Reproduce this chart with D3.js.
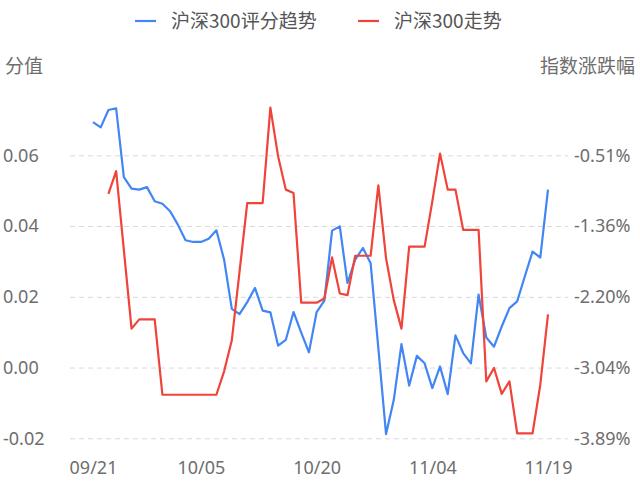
<!DOCTYPE html>
<html>
<head>
<meta charset="utf-8">
<script src="https://cdn.jsdelivr.net/npm/d3@7"></script>
<style>
  html, body { margin: 0; padding: 0; background: #fff; }
  svg { display: block; font-family: "Noto Sans CJK SC", "Noto Sans", sans-serif; }
</style>
</head>
<body>
<svg id="chart" width="640" height="493"></svg>
<script>
// ---- data ----
const dates = [
  "09/21","09/22","09/23","09/24","09/25","09/26","09/27","09/28","09/29","09/30",
  "10/01","10/02","10/03","10/04","10/05","10/06","10/07","10/08","10/09","10/10",
  "10/11","10/12","10/13","10/14","10/15","10/16","10/17","10/18","10/19","10/20",
  "10/21","10/22","10/23","10/24","10/25","10/26","10/27","10/28","10/29","10/30",
  "10/31","11/01","11/02","11/03","11/04","11/05","11/06","11/07","11/08","11/09",
  "11/10","11/11","11/12","11/13","11/14","11/15","11/16","11/17","11/18","11/19"
];
const xTickLabels = ["09/21","10/05","10/20","11/04","11/19"];

const scoreTrend = [
  0.0694, 0.0679, 0.0728, 0.0733, 0.0538, 0.0506, 0.0503, 0.0510, 0.0470, 0.0463,
  0.0442, 0.0404, 0.0360, 0.0355, 0.0355, 0.0364, 0.0388, 0.0305, 0.0166, 0.0151,
  0.0185, 0.0225, 0.0161, 0.0156, 0.0062, 0.0078, 0.0157, 0.0099, 0.0043, 0.0157,
  0.0189, 0.0387, 0.0399, 0.0239, 0.0305, 0.0338, 0.0295, 0.0055, -0.0188, -0.0092,
  0.0066, -0.0051, 0.0033, 0.0012, -0.0058, 0.0003, -0.0075, 0.0091, 0.0041, 0.0012,
  0.0206, 0.0085, 0.0059, 0.0116, 0.0168, 0.0187, 0.0258, 0.0328, 0.0311, 0.0503
];
const indexChange = [
  null, null, -0.97, -0.70, -1.64, -2.58, -2.47, -2.47, -2.47, -3.37,
  -3.37, -3.37, -3.37, -3.37, -3.37, -3.37, -3.37, -3.09, -2.72, -1.90,
  -1.08, -1.08, -1.08, 0.06, -0.52, -0.92, -0.96, -2.27, -2.27, -2.27,
  -2.22, -1.73, -2.16, -2.18, -1.71, -1.71, -1.71, -0.87, -1.74, -2.24,
  -2.58, -1.60, -1.60, -1.60, -1.06, -0.49, -0.92, -0.92, -1.40, -1.40,
  -1.40, -3.21, -3.05, -3.36, -3.21, -3.83, -3.83, -3.83, -3.25, -2.41
];

const leftTicks = [-0.02, 0, 0.02, 0.04, 0.06];
const leftTickLabels = ["-0.02", "0.00", "0.02", "0.04", "0.06"];
const rightTicks = [-3.89, -3.045, -2.20, -1.355, -0.51];
const rightTickLabels = ["-3.89%", "-3.04%", "-2.20%", "-1.36%", "-0.51%"];

const seriesNames = ["沪深300评分趋势", "沪深300走势"];
const colors = ["#4285f4", "#f0433a"];

// ---- layout ----
const svg = d3.select("#chart");
const plotLeft = 70, plotRight = 568;
const firstX = 93, lastX = 548;
const yBottom = 438.3, yTop = 155.3;
const numFont = "'Noto Sans', 'Noto Sans CJK SC', sans-serif";
const labelColor = "#6e6e6e";

const x = d3.scalePoint().domain(dates).range([firstX, lastX]);
const yL = d3.scaleLinear().domain([-0.02, 0.06]).range([yBottom, yTop]);
const yR = d3.scaleLinear().domain([-3.89, -0.51]).range([yBottom, yTop]);

// grid lines
svg.append("g")
  .attr("transform", `translate(${plotLeft},0)`)
  .call(d3.axisLeft(yL).tickValues(leftTicks).tickSize(-(plotRight - plotLeft)).tickFormat(""))
  .call(g => g.select(".domain").remove())
  .call(g => g.selectAll(".tick line")
    .attr("stroke", "#d9d9d9").attr("stroke-width", 1).attr("stroke-dasharray", "5,4"));

// left axis labels
svg.append("g")
  .attr("transform", `translate(3,0)`)
  .call(d3.axisRight(yL).tickValues(leftTicks).tickSize(0).tickPadding(0)
        .tickFormat((d, i) => leftTickLabels[i]))
  .call(g => g.select(".domain").remove())
  .call(g => g.selectAll("text")
    .attr("fill", labelColor).style("font-size", "18px").attr("text-anchor", "start")
    .style("font-family", numFont));

// right axis labels
svg.append("g")
  .attr("transform", `translate(574,0)`)
  .call(d3.axisRight(yR).tickValues(rightTicks).tickSize(0).tickPadding(0)
        .tickFormat((d, i) => rightTickLabels[i]))
  .call(g => g.select(".domain").remove())
  .call(g => g.selectAll("text")
    .attr("fill", labelColor).style("font-size", "18px").attr("text-anchor", "start")
    .style("font-family", numFont));

// x axis labels
svg.append("g")
  .attr("transform", `translate(0,${yBottom})`)
  .call(d3.axisBottom(x).tickValues(xTickLabels).tickSize(0).tickPadding(23))
  .call(g => g.select(".domain").remove())
  .call(g => g.selectAll("text")
    .attr("fill", labelColor).style("font-size", "18px")
    .style("font-family", numFont));

// axis names
svg.append("text").attr("x", 5).attr("y", 73)
  .attr("fill", labelColor).style("font-size", "19px").text("分值");
svg.append("text").attr("x", 635).attr("y", 73).attr("text-anchor", "end")
  .attr("fill", labelColor).style("font-size", "19px").text("指数涨跌幅");

// lines
const lineL = d3.line().defined(d => d != null).x((d, i) => x(dates[i])).y(d => yL(d));
const lineR = d3.line().defined(d => d != null).x((d, i) => x(dates[i])).y(d => yR(d));

svg.append("path").datum(scoreTrend)
  .attr("fill", "none").attr("stroke", colors[0]).attr("stroke-width", 2.2)
  .attr("stroke-linejoin", "round").attr("d", lineL);
svg.append("path").datum(indexChange)
  .attr("fill", "none").attr("stroke", colors[1]).attr("stroke-width", 2.2)
  .attr("stroke-linejoin", "round").attr("d", lineR);

// legend
const legendItems = [
  { name: seriesNames[0], color: colors[0], x: 135 },
  { name: seriesNames[1], color: colors[1], x: 358 }
];
const lg = svg.append("g");
legendItems.forEach(it => {
  lg.append("line").attr("x1", it.x).attr("x2", it.x + 21).attr("y1", 21).attr("y2", 21)
    .attr("stroke", it.color).attr("stroke-width", 2.2);
  lg.append("text").attr("x", it.x + 36).attr("y", 28)
    .attr("fill", "#555").style("font-size", "19px").text(it.name);
});
</script>
</body>
</html>
